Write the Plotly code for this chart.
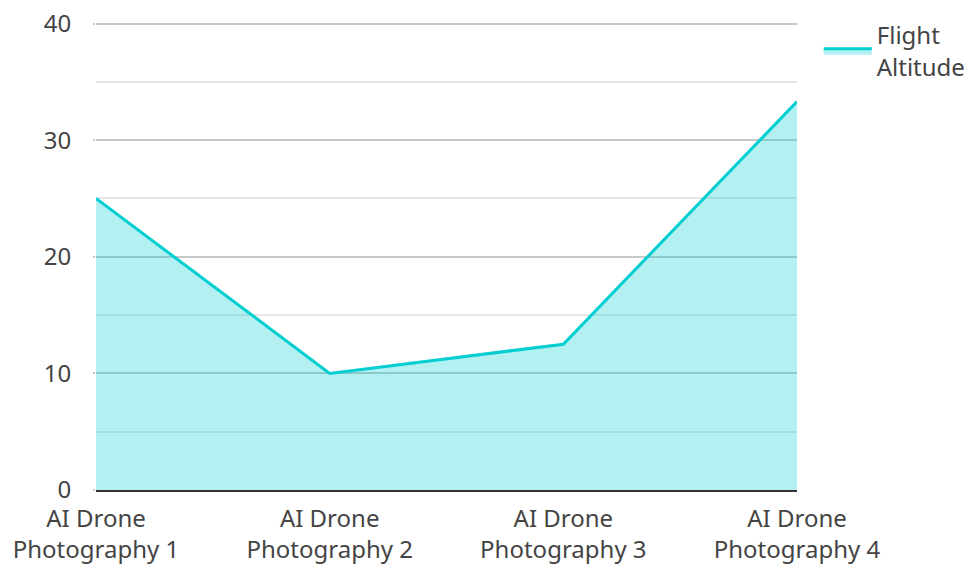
import plotly.graph_objects as go

categories = ["AI Drone<br>Photography 1", "AI Drone<br>Photography 2",
              "AI Drone<br>Photography 3", "AI Drone<br>Photography 4"]
altitude = [25, 10, 12.5, 33.3]
series_name = "Flight<br>Altitude"

fig = go.Figure()
fig.add_trace(go.Scatter(
    x=categories, y=altitude, name=series_name, mode="lines",
    line=dict(color="#00CED1", width=3),
    fill="tozeroy", fillcolor="rgba(0,206,209,0.3)",
))

font = dict(family="Noto Sans", size=24, color="#444")
fig.update_layout(
    width=975, height=564,
    margin=dict(l=88, r=186, t=12, b=82, autoexpand=False),
    paper_bgcolor="white", plot_bgcolor="white",
    font=font,
    showlegend=True,
    legend=dict(x=1.031, y=1.015, xanchor="left", yanchor="top",
                itemwidth=48,
                font=dict(family="Noto Sans", size=24, color="#444"),
                bgcolor="rgba(0,0,0,0)"),
    xaxis=dict(type="category", range=[0, 3], showgrid=False, automargin=False,
               showline=True, linecolor="#333", linewidth=2,
               ticks="", tickfont=font, zeroline=False, ticklabelstandoff=6,
               ticklabeloverflow="allow"),
    yaxis=dict(range=[0, 40.3], dtick=10, tick0=0, showgrid=True, automargin=False,
               gridcolor="#c8c8c8", gridwidth=1.5, zeroline=False,
               ticks="outside", ticklen=2, tickcolor="#c8c8c8", tickwidth=1.5,
               tickfont=font, ticklabelstandoff=17, ticklabeloverflow="allow",
               minor=dict(dtick=5, showgrid=True, gridcolor="#e6e6e6", gridwidth=1.5)),
)
fig.write_html("out.html")
